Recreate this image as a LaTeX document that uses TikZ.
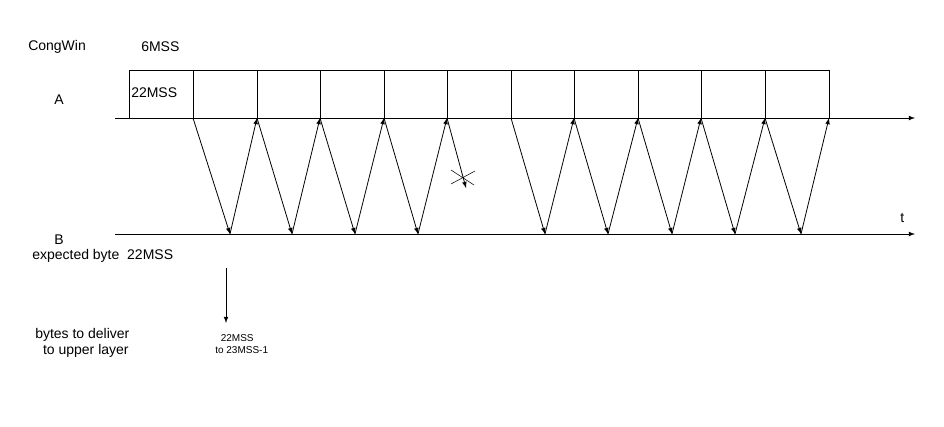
\documentclass[tikz,border=0pt]{standalone}
\usepackage{fontspec}
\setmainfont{Liberation Sans}
\begin{document}
\begin{tikzpicture}[x=0.75pt,y=-0.75pt,
  lbl/.style={font=\fontsize{10.5}{12}\selectfont,inner sep=0pt},
  sm/.style={font=\fontsize{7.5}{9}\selectfont,inner sep=0pt,align=center},
  msg/.style={-latex,line width=0.6pt},
  ln/.style={line width=0.6pt}]
\useasboundingbox (0,0) rectangle (944,426);
% boxes
\foreach \i/\x in {0/129,1/193,2/257,3/320,4/384,5/447,6/511,7/574,8/638,9/701,10/765,11/829}{
  \coordinate (a\i) at (\x,118);
}
\foreach \i/\j in {0/1,1/2,2/3,3/4,4/5,5/6,6/7,7/8,8/9,9/10,10/11}{
  \draw[ln] (a\i) rectangle ([yshift=48*0.75pt]a\j);
}
\coordinate (Al) at (115,118); \coordinate (Ar) at (915,118);
\coordinate (Bl) at (115,234); \coordinate (Br) at (915,234);
\draw[ln,-latex] (Al) -- (Ar);
\draw[ln,-latex] (Bl) -- (Br);
% receiver points
\foreach \i/\x in {1/230,2/292,3/355,4/418,6/545,7/608,8/672,9/701,10/801}{}
\coordinate (b1) at (230,234); \coordinate (b2) at (292,234);
\coordinate (b3) at (355,234); \coordinate (b4) at (418,234);
\coordinate (b6) at (545,234); \coordinate (b7) at (608,234);
\coordinate (b8) at (672,234); \coordinate (b9) at (735,234);
\coordinate (b10) at (801,234);
\foreach \i/\j in {1/2,2/3,3/4,4/5,6/7,7/8,8/9,9/10,10/11}{
  \draw[msg] (a\i) -- (b\i);
  \draw[msg] (b\i) -- (a\j);
}
\coordinate (lost) at (466,188);
\draw[msg] (a5) -- (lost);
\draw[line width=0.4pt] (451,170) -- (474,185) (451,184) -- (475,171);
% labels
\node[lbl,anchor=west] (cw) at (28,47) {CongWin};
\node[lbl,anchor=west] (m6) at (141,47) {6MSS};
\node[lbl,anchor=west] (A) at (54,100) {A};
\node[lbl,anchor=west] (m22) at (131,93) {22MSS};
\node[lbl,anchor=west] (B) at (54,240) {B};
\node[lbl,anchor=west] (t) at (900,218) {t};
\node[lbl,anchor=west] (eb) at (32,256) {expected byte\ \ 22MSS};
\coordinate (d1) at (226,268); \coordinate (d2) at (226,323);
\draw[msg] (d1) -- (d2);
\node[lbl,align=left,anchor=west] (del) at (35,343) {bytes to deliver\\\ \ to upper layer};
\node[sm,anchor=west,align=left] (rng) at (215,344) {\ \ 22MSS\\to 23MSS-1};
\end{tikzpicture}
\end{document}
